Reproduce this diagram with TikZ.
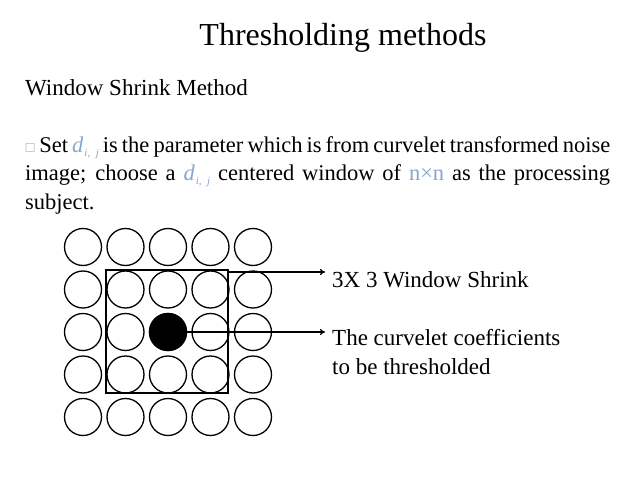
\documentclass[tikz,border=0pt]{standalone}
\usepackage{fontspec}
\setmainfont{Liberation Serif}
\usepackage{amssymb}
\usetikzlibrary{arrows.meta}
\definecolor{lb}{RGB}{135,165,205}
\newcommand{\dij}{\textcolor{lb}{\textit{d}\kern1pt\raisebox{-4pt}{\fontsize{11}{11}\selectfont\textit{i, \ j}}}}
\begin{document}
\begin{tikzpicture}[x=1pt,y=-1pt,
  cell/.style={circle,draw,line width=1.3pt,minimum size=37pt,inner sep=0pt},
  lab/.style={anchor=west,font=\fontsize{23}{29}\selectfont,inner sep=0pt,align=left},
  arr/.style={draw,line width=1.2pt,-{To[length=5pt,width=6pt]}}]
\useasboundingbox (0,0) rectangle (638,479);
\node[font=\fontsize{32}{34}\selectfont] (title) at (343,38) {Thresholding methods};
\node[anchor=west,font=\fontsize{23}{24}\selectfont,inner sep=0pt] (sub) at (25,88) {Window Shrink Method};
\node[anchor=north west,text width=585pt,align=justify,inner sep=0pt,font=\fontsize{22.5}{28.5}\selectfont] (para) at (25,136)
{{\fontsize{13}{13}\selectfont\textcolor{lb}{$\square$}}\ Set \dij{} is the parameter which is from curvelet transformed noise image; choose a \dij{} centered window of \textcolor{lb}{n×n} as the processing subject.};
\foreach \i in {0,...,4}{\foreach \j in {0,...,4}{
  \node[cell] (c\i\j) at (83+42.5*\i,247+42.5*\j) {};}}
\node[cell,fill=black] at (c22) {};
\node[draw,line width=1.3pt,minimum width=122pt,minimum height=123pt,inner sep=0pt] (win) at (167,331.5) {};
\node[lab] (t1) at (332,280) {3X 3 Window Shrink};
\node[lab] (t2) at (332,352) {The curvelet coefficients\\to be thresholded};
\coordinate (e1) at (325,272);
\coordinate (e2) at (325,332);
\draw[arr] (win.north east |- e1) -- (e1);
\draw[arr] (c22.east) -- (e2);
\end{tikzpicture}
\end{document}
